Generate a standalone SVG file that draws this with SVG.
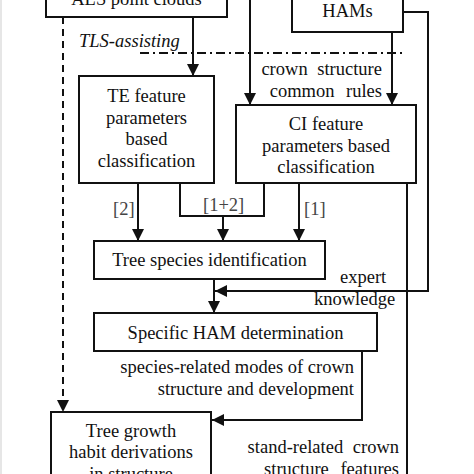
<svg xmlns="http://www.w3.org/2000/svg" width="474" height="474" viewBox="0 0 474 474">
<defs>
<style>
.box{fill:#fff;stroke:#111;stroke-width:2}
.ln{fill:none;stroke:#111;stroke-width:2}
text{font-family:"Liberation Serif","Times New Roman",serif;font-size:18.5px;fill:#111}
.c{text-anchor:middle}
.e{text-anchor:end}
.lbl{fill:#444}
</style>
<marker id="ah" markerUnits="userSpaceOnUse" markerWidth="12" markerHeight="12" refX="12" refY="6" orient="auto">
<path d="M0,0 L12,6 L0,12 z" fill="#111"/>
</marker>
</defs>
<rect x="0" y="0" width="474" height="474" fill="#fff"/>
<rect x="0" y="0" width="2" height="474" fill="#e6e6e6"/>
<g id="connectors">
<path class="ln" d="M193,17 V76" marker-end="url(#ah)"/>
<path class="ln" d="M250,0 V105" marker-end="url(#ah)"/>
<path class="ln" d="M392,32 V105" marker-end="url(#ah)"/>
<path class="ln" d="M403,12 H428 V291 H215" marker-end="url(#ah)"/>
<path class="ln" d="M63,17 V412" stroke-dasharray="7 5" marker-end="url(#ah)"/>
<path class="ln" d="M140,53 H404" stroke-dasharray="9 4 2 4"/>
<path class="ln" d="M138,183 V241" marker-end="url(#ah)"/>
<path class="ln" d="M180,183 V216 H264 V183"/>
<path class="ln" d="M223,216 V241" marker-end="url(#ah)"/>
<path class="ln" d="M299,183 V241" marker-end="url(#ah)"/>
<path class="ln" d="M214,279 V313" marker-end="url(#ah)"/>
<path class="ln" d="M362,351 V420 H212" marker-end="url(#ah)"/>
<path class="ln" d="M407,183 V474"/>
<text x="79" y="47" font-style="italic">TLS-assisting</text>
<text x="382" y="75" class="e" word-spacing="5">crown structure</text>
<text x="382" y="97" class="e" word-spacing="7">common rules</text>
<text x="113" y="215" class="lbl">[2]</text>
<text x="203" y="211" class="lbl">[1+2]</text>
<text x="304" y="215" class="lbl">[1]</text>
<text x="340" y="283">expert</text>
<text x="314" y="305">knowledge</text>
<text x="354" y="373" class="e">species-related modes of crown</text>
<text x="354" y="395" class="e">structure and development</text>
<text x="399" y="453" class="e" word-spacing="5">stand-related crown</text>
<text x="399" y="475" class="e" word-spacing="7">structure features</text>
</g>
<g id="als">
<rect class="box" x="46" y="-20" width="181" height="37"/>
<text x="136.5" y="5" class="c">ALS point clouds</text>
</g>
<g id="hams">
<rect class="box" x="292" y="-20" width="111" height="52"/>
<text x="347.5" y="17" class="c">HAMs</text>
</g>
<g id="te">
<rect class="box" x="79" y="76" width="135" height="107"/>
<text x="146.5" y="102" class="c">TE feature</text>
<text x="146.5" y="124" class="c">parameters</text>
<text x="146.5" y="145" class="c">based</text>
<text x="146.5" y="167" class="c">classification</text>
</g>
<g id="ci">
<rect class="box" x="236" y="105" width="180" height="78"/>
<text x="326" y="130" class="c">CI feature</text>
<text x="326" y="152" class="c">parameters based</text>
<text x="326" y="173" class="c">classification</text>
</g>
<g id="species">
<rect class="box" x="94" y="241" width="231" height="38"/>
<text x="209.5" y="266" class="c">Tree species identification</text>
</g>
<g id="ham">
<rect class="box" x="94" y="313" width="283" height="38"/>
<text x="235.5" y="339" class="c">Specific HAM determination</text>
</g>
<g id="growth">
<rect class="box" x="51" y="412" width="160" height="80"/>
<text x="131" y="437" class="c">Tree growth</text>
<text x="131" y="458" class="c">habit derivations</text>
<text x="131" y="480" class="c">in structure</text>
</g>
</svg>
